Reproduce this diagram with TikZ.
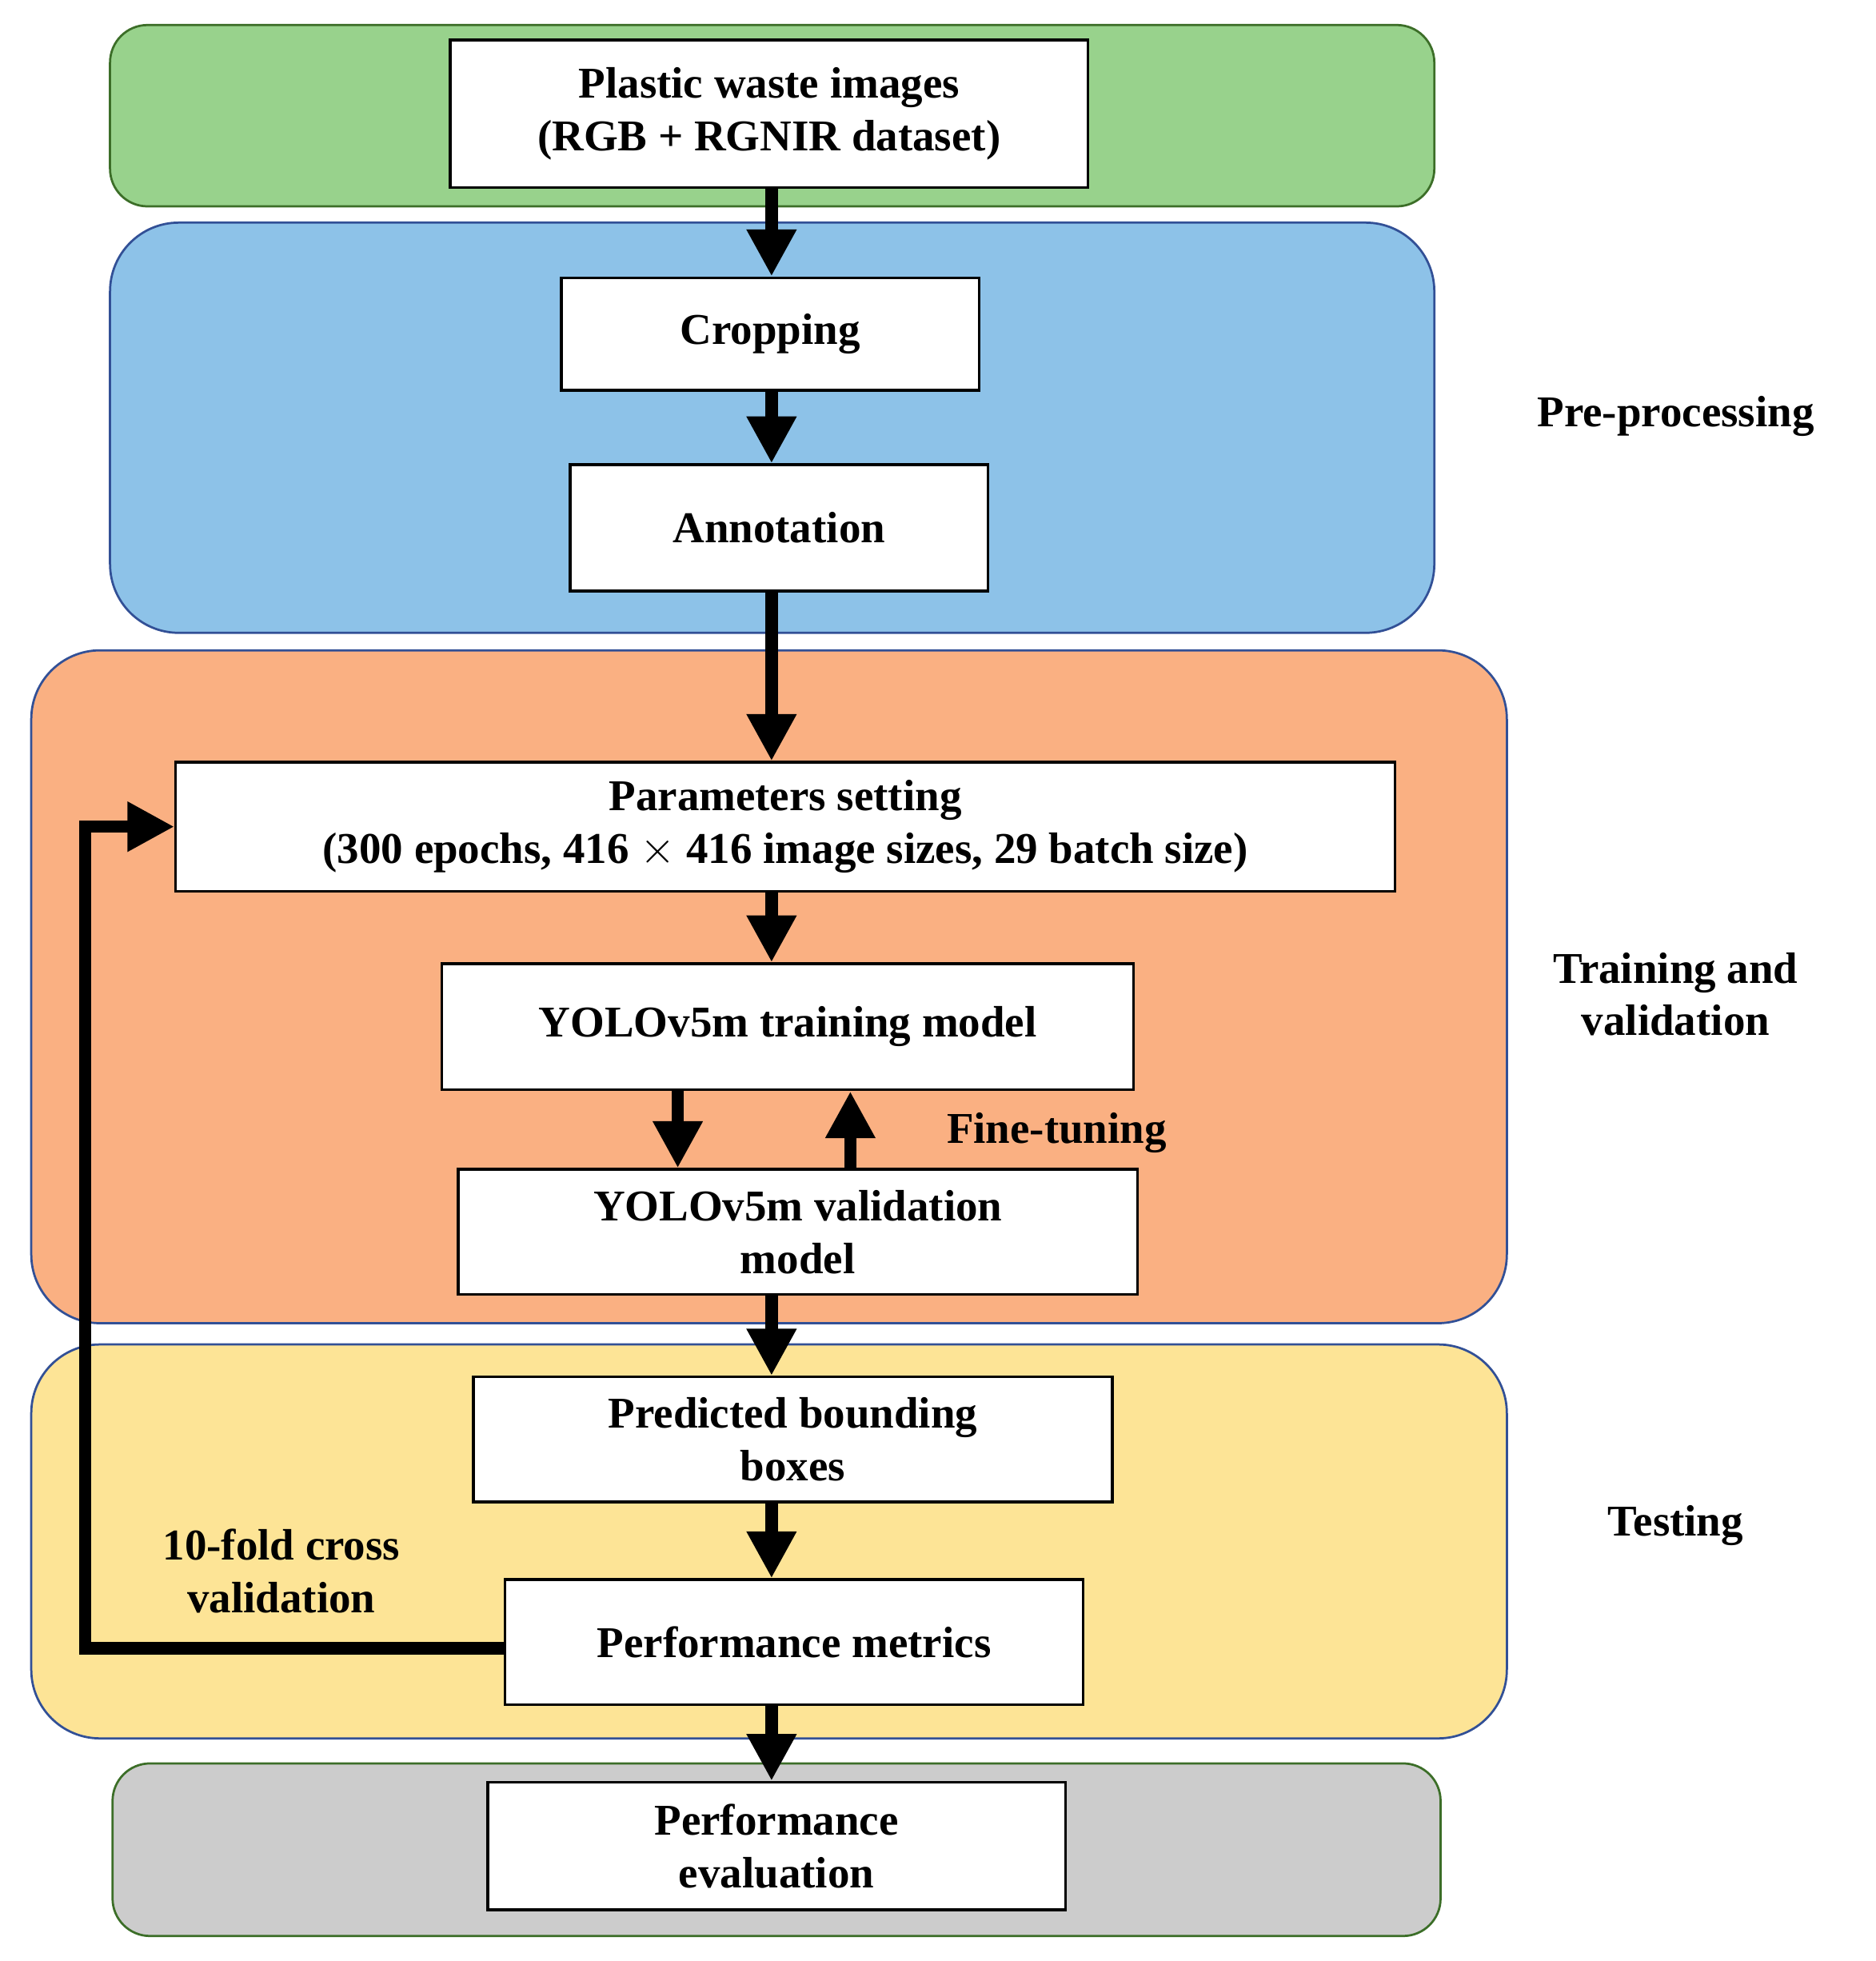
\documentclass[tikz,border=0pt]{standalone}
\usepackage{fontspec}
\setmainfont{Liberation Serif}
\usetikzlibrary{arrows.meta}
\definecolor{bgreen}{RGB}{152,210,140}
\definecolor{bblue}{RGB}{141,194,232}
\definecolor{borange}{RGB}{250,176,130}
\definecolor{byellow}{RGB}{253,228,150}
\definecolor{bgray}{RGB}{204,204,204}
\definecolor{edgegreen}{RGB}{60,110,40}
\definecolor{edgeblue}{RGB}{50,80,150}
\begin{document}
\begin{tikzpicture}[x=0.02cm,y=-0.02cm,
    font=\fontsize{20}{24}\selectfont\bfseries,
    band/.style={rounded corners=1.1cm,draw,line width=1pt},
    box/.style={draw,fill=white,line width=1.2pt,align=center,inner sep=0pt},
    flow/.style={-{Triangle[length=0.75cm,width=0.75cm]},line width=0.2cm},
    lab/.style={align=center}]
  \useasboundingbox (0,0) rectangle (1500,1568);

  % stage bands
  \draw[band,fill=bgreen,draw=edgegreen,rounded corners=0.6cm] (88,20) rectangle (1147,165);
  \draw[band,fill=bblue,draw=edgeblue] (88,178) rectangle (1147,506);
  \draw[band,fill=borange,draw=edgeblue] (25,520) rectangle (1205,1058);
  \draw[band,fill=byellow,draw=edgeblue] (25,1075) rectangle (1205,1390);
  \draw[band,fill=bgray,draw=edgegreen,rounded corners=0.6cm] (90,1410) rectangle (1152,1548);

  % steps
  \node[box,minimum width=510*0.02cm,minimum height=118*0.02cm] (images) at (615,91) {Plastic waste images\\(RGB + RGNIR dataset)};
  \node[box,minimum width=334*0.02cm,minimum height=90*0.02cm] (crop) at (616,267) {Cropping};
  \node[box,minimum width=334*0.02cm,minimum height=101*0.02cm] (annot) at (623,422) {Annotation};
  \node[box,minimum width=975*0.02cm,minimum height=103*0.02cm] (params) at (628,661) {Parameters setting\\(300 epochs, 416 $\times$ 416 image sizes, 29 batch size)};
  \node[box,minimum width=553*0.02cm,minimum height=101*0.02cm] (train) at (630,821) {YOLOv5m training model};
  \node[box,minimum width=543*0.02cm,minimum height=100*0.02cm] (valid) at (638,985) {YOLOv5m validation\\model};
  \node[box,minimum width=511*0.02cm,minimum height=100*0.02cm] (pred) at (634,1151) {Predicted bounding\\boxes};
  \node[box,minimum width=462*0.02cm,minimum height=100*0.02cm] (perf) at (635,1313) {Performance metrics};
  \node[box,minimum width=462*0.02cm,minimum height=102*0.02cm] (eval) at (621,1476) {Performance\\evaluation};

  % stage names
  \node[lab] (pre) at (1340,333) {Pre-processing};
  \node[lab] (trv) at (1340,795) {Training and\\validation};
  \node[lab] (test) at (1340,1220) {Testing};
  \node[lab] (fine) at (845,906) {Fine-tuning};
  \node[lab] (fold) at (225,1256) {10-fold cross\\validation};

  \coordinate (mid) at (617,0);
  \coordinate (down) at (542,0);
  \coordinate (up) at (680,0);
  \coordinate (loop) at (68,0);

  \draw[flow] (images.south -| mid) -- (crop.north -| mid);
  \draw[flow] (crop.south -| mid) -- (annot.north -| mid);
  \draw[flow] (annot.south -| mid) -- (params.north -| mid);
  \draw[flow] (params.south -| mid) -- (train.north -| mid);
  \draw[flow] (train.south -| down) -- (valid.north -| down);
  \draw[flow] (valid.north -| up) -- (train.south -| up);
  \draw[flow] (valid.south -| mid) -- (pred.north -| mid);
  \draw[flow] (pred.south -| mid) -- (perf.north -| mid);
  \draw[flow] (perf.south -| mid) -- (eval.north -| mid);
  \draw[flow] ([yshift=-0.1cm]perf.west) -| (loop |- params.west) -- (params.west);
\end{tikzpicture}
\end{document}
